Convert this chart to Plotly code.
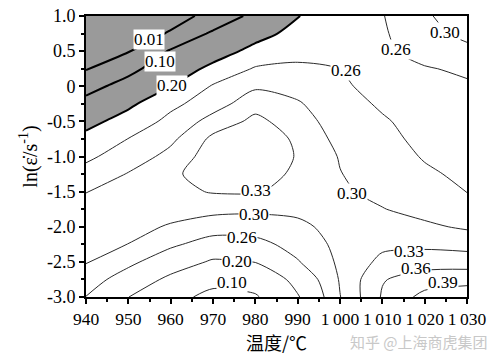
import plotly.graph_objects as go

temps = [940, 950, 960, 970, 980, 990, 1000, 1010, 1020, 1030]
temp_ticktext = ["940", "950", "960", "970", "980", "990", "1\u2009000", "1\u2009010", "1\u2009020", "1\u2009030"]
strain_rates = [-3.0, -2.75, -2.5, -2.25, -2.0, -1.75, -1.5, -1.25, -1.0,
                -0.75, -0.5, -0.25, 0.0, 0.25, 0.5, 0.75, 1.0]
lnr_tickvals = [-3.0, -2.5, -2.0, -1.5, -1.0, -0.5, 0.0, 0.5, 1.0]
lnr_ticktext = ["-3.0", "-2.5", "-2.0", "-1.5", "-1.0", "-0.5", "0", "0.5", "1.0"]

# power-dissipation efficiency, one column per temperature (bottom -> top)
eta_940 = [0.259, 0.282, 0.302, 0.315, 0.320, 0.312, 0.299, 0.276, 0.251, 0.219, 0.179, 0.127, 0.069, 0.005, -0.020, -0.040, -0.060]
eta_950 = [0.201, 0.2375, 0.271, 0.2995, 0.310, 0.318, 0.312, 0.302, 0.282, 0.261, 0.227, 0.187, 0.134, 0.074, 0.005, -0.020, -0.040]
eta_960 = [0.135, 0.187, 0.231, 0.268, 0.297, 0.312, 0.322, 0.326, 0.310, 0.293, 0.274, 0.248, 0.199, 0.155, 0.109, 0.015, -0.010]
eta_970 = [0.070, 0.133, 0.193, 0.240, 0.281, 0.310, 0.332, 0.340, 0.345, 0.337, 0.313, 0.285, 0.265, 0.218, 0.166, 0.116, 0.025]
eta_980 = [0.090, 0.143, 0.202, 0.246, 0.280, 0.3075, 0.333, 0.342, 0.350, 0.345, 0.337, 0.320, 0.295, 0.265, 0.221, 0.175, 0.130]
eta_990 = [0.195, 0.221, 0.257, 0.276, 0.293, 0.307, 0.318, 0.325, 0.328, 0.326, 0.316, 0.304, 0.286, 0.268, 0.246, 0.223, 0.198]
eta_1000 = [0.299, 0.303, 0.307, 0.310, 0.311, 0.310, 0.304, 0.301, 0.298, 0.290, 0.2826, 0.275, 0.267, 0.2597, 0.245, 0.235, 0.232]
eta_1010 = [0.363, 0.358, 0.337, 0.324, 0.3125, 0.301, 0.293, 0.286, 0.278, 0.271, 0.264, 0.255, 0.245, 0.238, 0.250, 0.255, 0.258]
eta_1020 = [0.400, 0.374, 0.347, 0.323, 0.305, 0.291, 0.278, 0.266, 0.257, 0.250, 0.246, 0.245, 0.248, 0.256, 0.280, 0.287, 0.295]
eta_1030 = [0.410, 0.379, 0.346, 0.319, 0.296, 0.277, 0.259, 0.252, 0.248, 0.246, 0.246, 0.248, 0.253, 0.269, 0.290, 0.310, 0.320]

thin_levels = [0.26, 0.30, 0.33, 0.36, 0.39]
low_levels = [0.10, 0.20]          # thin lines in the lower (stable) part
unstable_levels = [0.01, 0.10]     # bold lines inside the instability zone
instability_limit = 0.20

label_text = ["0.01", "0.10", "0.20", "0.26", "0.26", "0.30", "0.33", "0.30",
              "0.30", "0.26", "0.20", "0.10", "0.33", "0.36", "0.39"]
label_T = [954.9, 957.5, 960.4, 1001.4, 1013.2, 1024.8, 980.2, 1002.8,
           979.7, 976.9, 975.7, 974.5, 1016.3, 1018.0, 1024.3]
label_lnr = [0.665, 0.35, 0.01, 0.22, 0.52, 0.77, -1.49, -1.52,
             -1.83, -2.16, -2.49, -2.80, -2.35, -2.60, -2.80]

# ---------------- build grid ----------------
columns = [eta_940, eta_950, eta_960, eta_970, eta_980, eta_990,
           eta_1000, eta_1010, eta_1020, eta_1030]
z = [list(row) for row in zip(*columns)]   # rows = strain rates

upper = slice(6, None)   # ln(strain rate) >= -1.5
lower = slice(0, 7)      # ln(strain rate) <= -1.5

SERIF = "Liberation Serif"
fig = go.Figure()

# grey instability region
fig.add_trace(go.Contour(
    x=temps, y=strain_rates[upper], z=z[upper],
    contours=dict(type="constraint", operation=">", value=instability_limit),
    fillcolor="#9a9a9a",
    line=dict(color="black", width=2, smoothing=0.8),
    showscale=False, hoverinfo="skip",
))


def level_trace(ys, zs, level, color, width):
    return go.Contour(
        x=temps, y=ys, z=zs, autocontour=False,
        contours=dict(start=level, end=level, size=0.01,
                      coloring="none", showlabels=False),
        line=dict(color=color, width=width, smoothing=0.8),
        showscale=False, hoverinfo="skip",
    )


for lv in thin_levels:
    fig.add_trace(level_trace(strain_rates, z, lv, "#2a2a2a", 1))
for lv in low_levels:
    fig.add_trace(level_trace(strain_rates[lower], z[lower], lv, "#2a2a2a", 1))
for lv in unstable_levels:
    fig.add_trace(level_trace(strain_rates[upper], z[upper], lv, "black", 2))

annotations = []
for t, x, y in zip(label_text, label_T, label_lnr):
    annotations.append(dict(
        x=x, y=y, xref="x", yref="y", text=t, showarrow=False,
        font=dict(family=SERIF, size=17, color="black"),
        bgcolor="white", borderpad=0,
    ))

annotations.append(dict(
    x=1.06, y=-0.157, xref="paper", yref="paper", xanchor="right", yanchor="middle",
    text="知乎 @上海商虎集团", showarrow=False,
    font=dict(family="Noto Sans CJK SC", size=15, color="#c8c8c8"),
))

fig.update_layout(
    width=501, height=355,
    margin=dict(l=86, r=34, t=16, b=58),
    paper_bgcolor="white", plot_bgcolor="white",
    showlegend=False,
    annotations=annotations,
    xaxis=dict(
        range=[940, 1030], tickvals=temps, ticktext=temp_ticktext, tickangle=0,
        ticks="outside", ticklen=5, tickwidth=1.5, tickcolor="black",
        minor=dict(dtick=5, tick0=940, ticks="outside", ticklen=3, tickcolor="black", showgrid=False),
        showline=True, linecolor="black", linewidth=2, mirror=True,
        showgrid=False, zeroline=False, automargin=False,
        tickfont=dict(family=SERIF, size=17.5, color="black"),
        title=dict(text="温度/℃", font=dict(family="Noto Sans CJK SC", size=18, color="black"), standoff=5),
    ),
    yaxis=dict(
        range=[-3, 1], tickvals=lnr_tickvals, ticktext=lnr_ticktext,
        ticks="outside", ticklen=5, tickwidth=1.5, tickcolor="black",
        minor=dict(dtick=0.25, tick0=-3, ticks="outside", ticklen=3, tickcolor="black", showgrid=False),
        showline=True, linecolor="black", linewidth=2, mirror=True,
        showgrid=False, zeroline=False, automargin=False,
        tickfont=dict(family=SERIF, size=18, color="black"),
        title=dict(text="ln(ε̇/s<sup>-1</sup>)", font=dict(family=SERIF, size=20, color="black"), standoff=4),
    ),
)

fig.write_html("out.html")
